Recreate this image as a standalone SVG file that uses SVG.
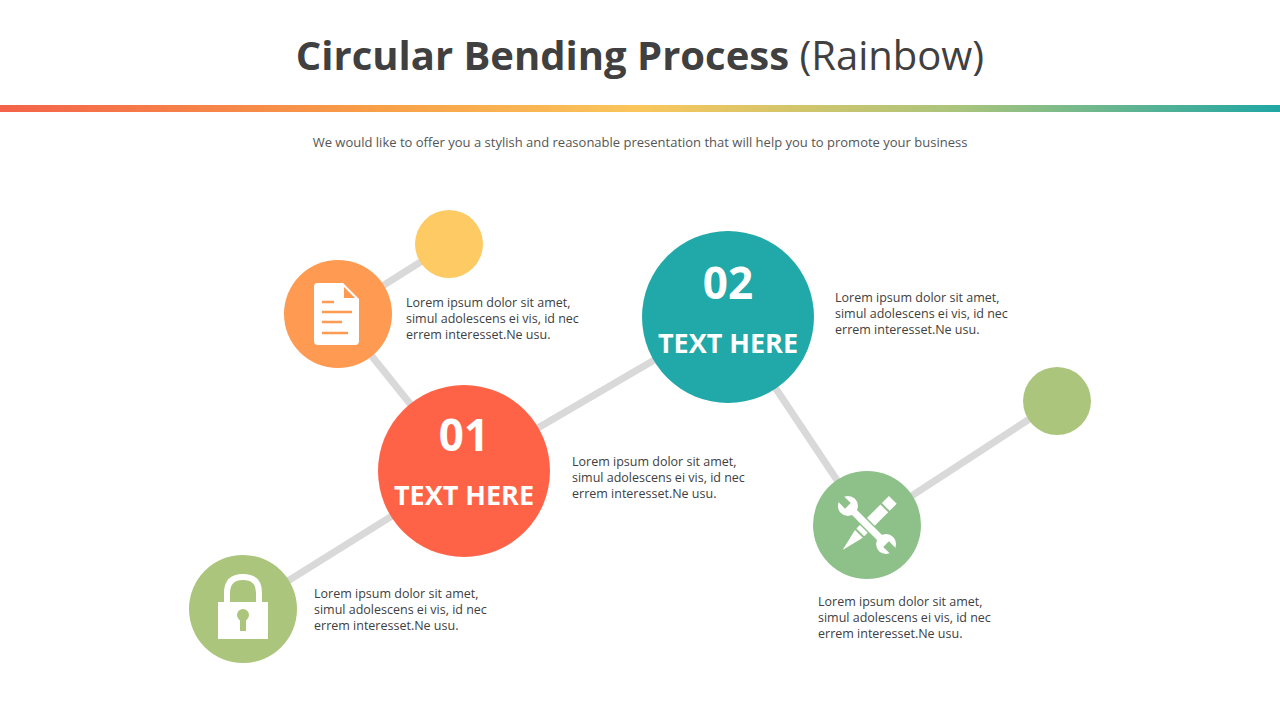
<svg xmlns="http://www.w3.org/2000/svg" width="1280" height="720" viewBox="0 0 1280 720">
<defs>
<linearGradient id="bar" x1="0" x2="1" y1="0" y2="0">
<stop offset="0" stop-color="#f4634a"/><stop offset="0.3" stop-color="#f8a048"/><stop offset="0.5" stop-color="#fac65c"/><stop offset="0.75" stop-color="#a9c47c"/><stop offset="1" stop-color="#1fa6a4"/>
</linearGradient>
<style>
.t{font-family:"Open Sans","Liberation Sans",sans-serif;fill:#404040;font-size:12.5px}
.c{stroke:#d9d9d9;stroke-width:7;fill:none}
.n{font-family:"Open Sans","Liberation Sans",sans-serif;fill:#fff;font-weight:bold;text-anchor:middle}
</style>
</defs>
<rect width="1280" height="720" fill="#fff"/>
<text x="640" y="70" text-anchor="middle" font-family="'Open Sans','Liberation Sans',sans-serif" font-size="40" fill="#404040"><tspan font-weight="bold">Circular Bending Process</tspan> (Rainbow)</text>
<rect x="0" y="105" width="1280" height="7" fill="url(#bar)"/>
<text x="640" y="147" text-anchor="middle" class="t" style="font-size:13px;fill:#555">We would like to offer you a stylish and reasonable presentation that will help you to promote your business</text>
<g id="connectors">
<line class="c" x1="243" y1="609" x2="464" y2="471"/>
<line class="c" x1="464" y1="471" x2="728" y2="317"/>
<line class="c" x1="728" y1="317" x2="867" y2="525"/>
<line class="c" x1="867" y1="525" x2="1057" y2="401"/>
<line class="c" x1="338" y1="314" x2="449" y2="244"/>
<line class="c" x1="338" y1="314" x2="464" y2="471"/>
</g>
<g id="yellow"><circle cx="449" cy="244" r="34" fill="#fdca63"/></g>
<g id="doc">
<circle cx="338" cy="314" r="54" fill="#fe9a52"/>
<path d="M317 283 H343 L359 299 V341 Q359 345 355 345 H318 Q314 345 314 341 V287 Q314 283 317 283 Z" fill="#fff"/>
<path d="M344 287 L355 298 H344 Z" fill="#fe9a52"/>
<g stroke="#fe9a52" stroke-width="2.5"><line x1="322" y1="302" x2="334" y2="302"/><line x1="322" y1="312" x2="352" y2="312"/><line x1="322" y1="322" x2="342" y2="322"/><line x1="322" y1="333" x2="348" y2="333"/></g>
<text class="t" x="406" y="307">Lorem ipsum dolor sit amet,</text>
<text class="t" x="406" y="323">simul adolescens ei vis, id nec</text>
<text class="t" x="406" y="339">errem interesset.Ne usu.</text>
</g>
<g id="n01">
<circle cx="464" cy="471" r="86" fill="#fe6347"/>
<text class="n" x="464" y="451" font-size="44">01</text>
<text class="n" x="464" y="505" font-size="27">TEXT HERE</text>
<text class="t" x="572" y="466">Lorem ipsum dolor sit amet,</text>
<text class="t" x="572" y="482">simul adolescens ei vis, id nec</text>
<text class="t" x="572" y="498">errem interesset.Ne usu.</text>
</g>
<g id="n02">
<circle cx="728" cy="317" r="86" fill="#21a8a8"/>
<text class="n" x="728" y="299" font-size="44">02</text>
<text class="n" x="728" y="353" font-size="27">TEXT HERE</text>
<text class="t" x="835" y="302">Lorem ipsum dolor sit amet,</text>
<text class="t" x="835" y="318">simul adolescens ei vis, id nec</text>
<text class="t" x="835" y="334">errem interesset.Ne usu.</text>
</g>
<g id="tools">
<circle cx="867" cy="525" r="54" fill="#8ec18a"/>
<g transform="rotate(45 867 525)" fill="#fff">
<rect x="862" y="489" width="11" height="10"/>
<rect x="862" y="501" width="11" height="34"/>
<path d="M862 537 H873 L867.5 560 Z"/>
</g>
<g transform="rotate(-45 867 525)">
<rect x="862" y="500" width="10" height="50" fill="#8ec18a"/>
<rect x="863.5" y="502" width="7" height="46" fill="#fff"/>
<circle cx="867" cy="498" r="10" fill="#fff"/>
<circle cx="867" cy="552" r="10" fill="#fff"/>
<rect x="863" y="484" width="8" height="14" fill="#8ec18a"/>
<rect x="863" y="552" width="8" height="14" fill="#8ec18a"/>
</g>
<text class="t" x="818" y="606">Lorem ipsum dolor sit amet,</text>
<text class="t" x="818" y="622">simul adolescens ei vis, id nec</text>
<text class="t" x="818" y="638">errem interesset.Ne usu.</text>
</g>
<g id="green"><circle cx="1057" cy="401" r="34" fill="#abc67c"/></g>
<g id="lock">
<circle cx="243" cy="609" r="54" fill="#abc67c"/>
<path d="M227 603 V593 Q227 577 243 577 Q259 577 259 593 V603" fill="none" stroke="#fff" stroke-width="6"/>
<rect x="218" y="602" width="50" height="37" fill="#fff"/>
<circle cx="243" cy="615" r="6" fill="#abc67c"/>
<rect x="240" y="615" width="6" height="16" fill="#abc67c"/>
<text class="t" x="314" y="598">Lorem ipsum dolor sit amet,</text>
<text class="t" x="314" y="614">simul adolescens ei vis, id nec</text>
<text class="t" x="314" y="630">errem interesset.Ne usu.</text>
</g>
</svg>
